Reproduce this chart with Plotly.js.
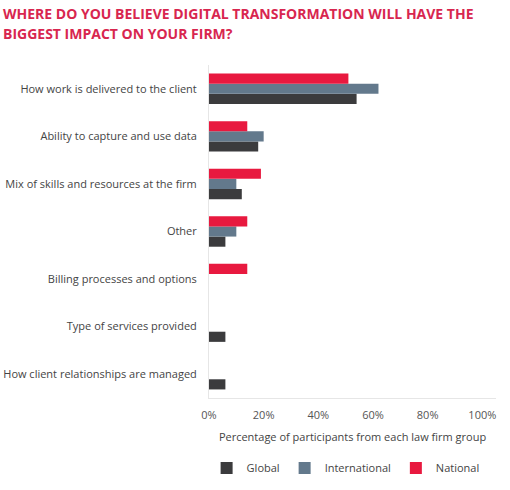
<!DOCTYPE html>
<html>
<head>
<meta charset="utf-8">
<script src="https://cdn.plot.ly/plotly-3.0.1.min.js"></script>
<style>
  html, body { margin: 0; padding: 0; background: #fff; }
  #chart { width: 510px; height: 490px; }
</style>
</head>
<body>
<div id="chart"></div>
<script>
// Impact of digital transformation, by law firm group ---------------------------
const categories = [
    'How work is delivered to the client',
    'Ability to capture and use data',
    'Mix of skills and resources at the firm',
    'Other',
    'Billing processes and options',
    'Type of services provided',
    'How client relationships are managed',
];
const globalVals        = [54, 18, 12, 6, 0, 6, 6];
const internationalVals = [62, 20, 10, 10, 0, 0, 0];
const nationalVals      = [51, 14, 19, 14, 14, 0, 0];
const xTicks = [0, 20, 40, 60, 80, 100];
const titleLines = [
    'WHERE DO YOU BELIEVE DIGITAL TRANSFORMATION WILL HAVE THE',
    'BIGGEST IMPACT ON YOUR FIRM?',
];

const series = [
    { name: 'Global', vals: globalVals, color: '#3b3b3d' },
    { name: 'International', vals: internationalVals, color: '#63798c' },
    { name: 'National', vals: nationalVals, color: '#e8193f' },
];

const font = 'Open Sans, Lato, sans-serif';

const traces = series.map(s => ({
    type: 'bar', orientation: 'h', name: s.name,
    x: s.vals, y: categories,
    marker: { color: s.color, line: { width: 0 } },
    hoverinfo: 'skip',
}));

// title drawn as two left-aligned annotations so the line spacing can be set
const titleY = [1.156, 1.096];
const annotations = titleLines.map((t, i) => ({
    text: t, showarrow: false,
    xref: 'paper', yref: 'paper', x: -0.724, y: titleY[i],
    xanchor: 'left', yanchor: 'middle',
    font: { family: font, size: 14, color: '#d8264f', weight: 700 },
}));

const layout = {
    width: 510, height: 490,
    paper_bgcolor: '#fff', plot_bgcolor: '#fff',
    font: { family: font, size: 11, color: '#444' },
    margin: { l: 209, r: 14, t: 65, b: 92 },
    barmode: 'group', bargap: 0.36, bargroupgap: 0,
    annotations,
    xaxis: {
        range: [0, 105], tickvals: xTicks, ticktext: xTicks.map(v => v + '%'),
        showgrid: false, zeroline: false,
        showline: true, linecolor: '#e6e6e6', linewidth: 1,
        ticks: 'outside', ticklen: 7, tickcolor: 'rgba(0,0,0,0)',
        tickfont: { size: 11, color: '#555' },
        title: { text: 'Percentage of participants from each law firm group', font: { size: 11, color: '#444' }, standoff: 12 },
        fixedrange: true,
    },
    yaxis: {
        categoryorder: 'array', categoryarray: categories.slice().reverse(),
        showgrid: false, zeroline: false,
        showline: true, linecolor: '#e6e6e6', linewidth: 1,
        ticks: 'outside', ticklen: 9, tickcolor: 'rgba(0,0,0,0)',
        tickfont: { size: 11, color: '#444' },
        fixedrange: true,
    },
    showlegend: true,
    legend: {
        orientation: 'h', x: 0.476, xanchor: 'center', xref: 'paper',
        y: 0.045, yref: 'container', yanchor: 'middle',
        font: { size: 11, color: '#444' }, itemwidth: 30,
    },
};

Plotly.newPlot('chart', traces, layout, { displayModeBar: false, staticPlot: true });
</script>
</body>
</html>
